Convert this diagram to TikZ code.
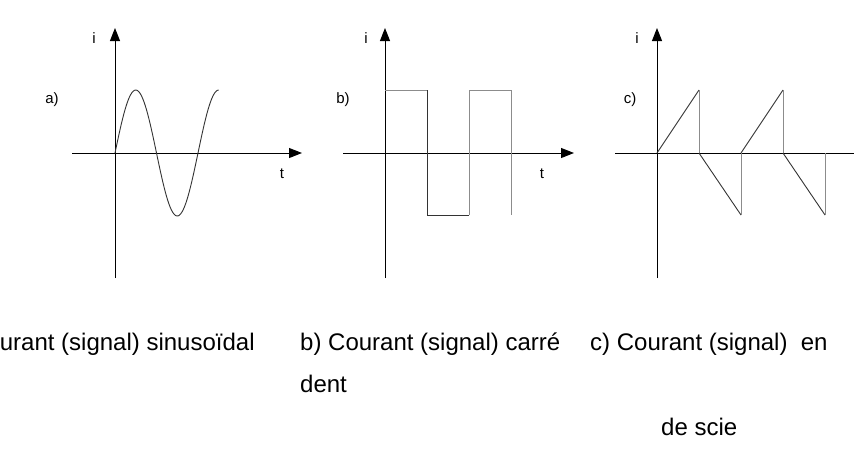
\documentclass[tikz,border=0pt]{standalone}
\usepackage{fontspec}
\setmainfont{Liberation Sans}
\usetikzlibrary{arrows.meta}
\begin{document}
\begin{tikzpicture}[x=1pt,y=-1pt,
  ax/.style={line width=1pt,-{Triangle[length=13pt,width=10pt]}},
  sig/.style={line width=0.9pt,black!80},
  gsig/.style={line width=1pt,black!45},
  lab/.style={font=\fontsize{15}{17}\selectfont,inner sep=0pt},
  captext/.style={font=\fontsize{24}{28}\selectfont,inner sep=0pt,anchor=base west}]
\useasboundingbox (0,0) rectangle (854,448);
\clip (0,0) rectangle (854,448);
% a
\coordinate (ay0) at (115,278); \coordinate (ay1) at (115,28);
\coordinate (ax0) at (72,153); \coordinate (ax1) at (302,153);
\draw[ax] (ay0) -- (ay1);
\draw[ax] (ax0) -- (ax1);
\draw[sig] plot[domain=0:1.25,samples=80,smooth] ({115+83*\x},{153-63*sin(360*\x)});
\node[lab] (ai) at (94,38) {i};
\node[lab] (aa) at (52,100) {a)};
\node[lab] (at) at (282,174) {t};
% b
\coordinate (by0) at (385,278); \coordinate (by1) at (385,28);
\coordinate (bx0) at (343,153); \coordinate (bx1) at (574,153);
\draw[ax] (by0) -- (by1);
\draw[ax] (bx0) -- (bx1);
\draw[gsig] (385,90) -- (427,90);
\draw[sig] (427,90) -- (427,215) -- (469,215);
\draw[gsig] (469,215) -- (469,90) -- (511,90) -- (511,215);
\node[lab] (bi) at (366,38) {i};
\node[lab] (bb) at (343,100) {b)};
\node[lab] (bt) at (542,174) {t};
% c
\coordinate (cy0) at (657,278); \coordinate (cy1) at (657,28);
\coordinate (cx0) at (615,153); \coordinate (cx1) at (870,153);
\draw[ax] (cy0) -- (cy1);
\draw[ax] (cx0) -- (cx1);
\draw[sig] (657,153) -- (699,90);
\draw[gsig] (699,90) -- (699,153);
\draw[sig] (699,153) -- (741,215);
\draw[gsig] (741,215) -- (741,153);
\draw[sig] (741,153) -- (783,90);
\draw[gsig] (783,90) -- (783,153);
\draw[sig] (783,153) -- (825,215);
\draw[gsig] (825,215) -- (825,153);
\node[lab] (ci) at (637,38) {i};
\node[lab] (cc) at (630,100) {c)};
% captions
\node[captext] (ca) at (-59,350) {a) Courant (signal) sinusoïdal};
\node[captext] (cb) at (300,350) {b) Courant (signal) carré};
\node[captext] (cd) at (300,392) {dent};
\node[captext] (cc2) at (590,350) {c) Courant (signal)\ \ en};
\node[captext] (cs) at (661,435) {de scie};
\end{tikzpicture}
\end{document}
